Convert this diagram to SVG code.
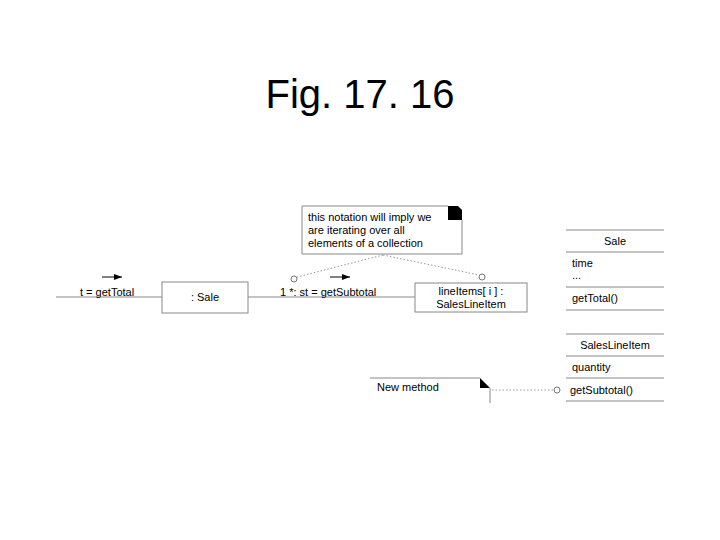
<svg xmlns="http://www.w3.org/2000/svg" width="720" height="540" viewBox="0 0 720 540">
<defs>
<style>
text{font-family:"Liberation Sans",Arial,sans-serif;fill:#000}
.t{font-size:11px}
.box{fill:#fff;stroke:#888;stroke-width:1}
.ln{stroke:#888;stroke-width:1;fill:none}
.dot{stroke:#999;stroke-width:1;stroke-dasharray:1.5 2;fill:none}
.arr{stroke:#000;stroke-width:1;fill:none}
.c{fill:#fff;stroke:#777;stroke-width:1}
</style>
<marker id="ah" markerWidth="8" markerHeight="6" refX="8" refY="3" orient="auto"><path d="M0,0 L8,3 L0,6 z" fill="#000"/></marker>
</defs>
<rect width="720" height="540" fill="#fff"/>
<text x="360" y="108" font-size="40" text-anchor="middle">Fig. 17. 16</text>
<g id="connectors">
<line class="ln" x1="56" y1="297" x2="162" y2="297"/>
<line class="ln" x1="248" y1="297" x2="415" y2="297"/>
<line class="arr" x1="102" y1="277" x2="122" y2="277" marker-end="url(#ah)"/>
<line class="arr" x1="330" y1="277" x2="350" y2="277" marker-end="url(#ah)"/>
<path class="dot" d="M383,255 L297,277 M383,255 L479,275"/>
<circle class="c" cx="294" cy="279" r="3"/>
<circle class="c" cx="482" cy="277" r="3"/>
<line class="dot" x1="492" y1="390" x2="553" y2="390"/>
<circle class="c" cx="557" cy="390" r="3"/>
<text class="t" x="80" y="296">t = getTotal</text>
<text class="t" x="280" y="296">1 *: st = getSubtotal</text>
</g>
<g id="sale">
<rect class="box" x="162" y="282" width="86" height="31"/>
<text class="t" x="205" y="301" text-anchor="middle">: Sale</text>
</g>
<g id="lineitem">
<rect class="box" x="415" y="283" width="112" height="29"/>
<text class="t" x="471" y="295" text-anchor="middle">lineItems[ i ] :</text>
<text class="t" x="471" y="308" text-anchor="middle">SalesLineItem</text>
</g>
<g id="note1">
<path class="box" d="M302,206 H448 L462,220 V254 H302 Z"/>
<path d="M448,206 L462,220 H448 Z M448,206 H458 L462,210 V220 Z" fill="#000"/>
<text class="t" x="308" y="221">this notation will imply we</text>
<text class="t" x="308" y="234">are iterating over all</text>
<text class="t" x="308" y="247">elements of a collection</text>
</g>
<g id="classSale">
<line class="ln" x1="566" y1="230" x2="664" y2="230"/>
<line class="ln" x1="566" y1="252" x2="664" y2="252"/>
<line class="ln" x1="566" y1="287" x2="664" y2="287"/>
<line class="ln" x1="566" y1="310" x2="664" y2="310"/>
<text class="t" x="615" y="245" text-anchor="middle">Sale</text>
<text class="t" x="572" y="267">time</text>
<text class="t" x="572" y="279">...</text>
<text class="t" x="572" y="302">getTotal()</text>
</g>
<g id="classSalesLineItem">
<line class="ln" x1="566" y1="334" x2="664" y2="334"/>
<line class="ln" x1="566" y1="356" x2="664" y2="356"/>
<line class="ln" x1="566" y1="378" x2="664" y2="378"/>
<line class="ln" x1="566" y1="401" x2="664" y2="401"/>
<text class="t" x="615" y="349" text-anchor="middle">SalesLineItem</text>
<text class="t" x="572" y="371">quantity</text>
<text class="t" x="570" y="394">getSubtotal()</text>
</g>
<g id="note2">
<path class="ln" d="M370,378 H480 M490,388 V403"/>
<path d="M480,378 L490,388 H480 Z" fill="#000"/>
<text class="t" x="377" y="391">New method</text>
</g>
</svg>
